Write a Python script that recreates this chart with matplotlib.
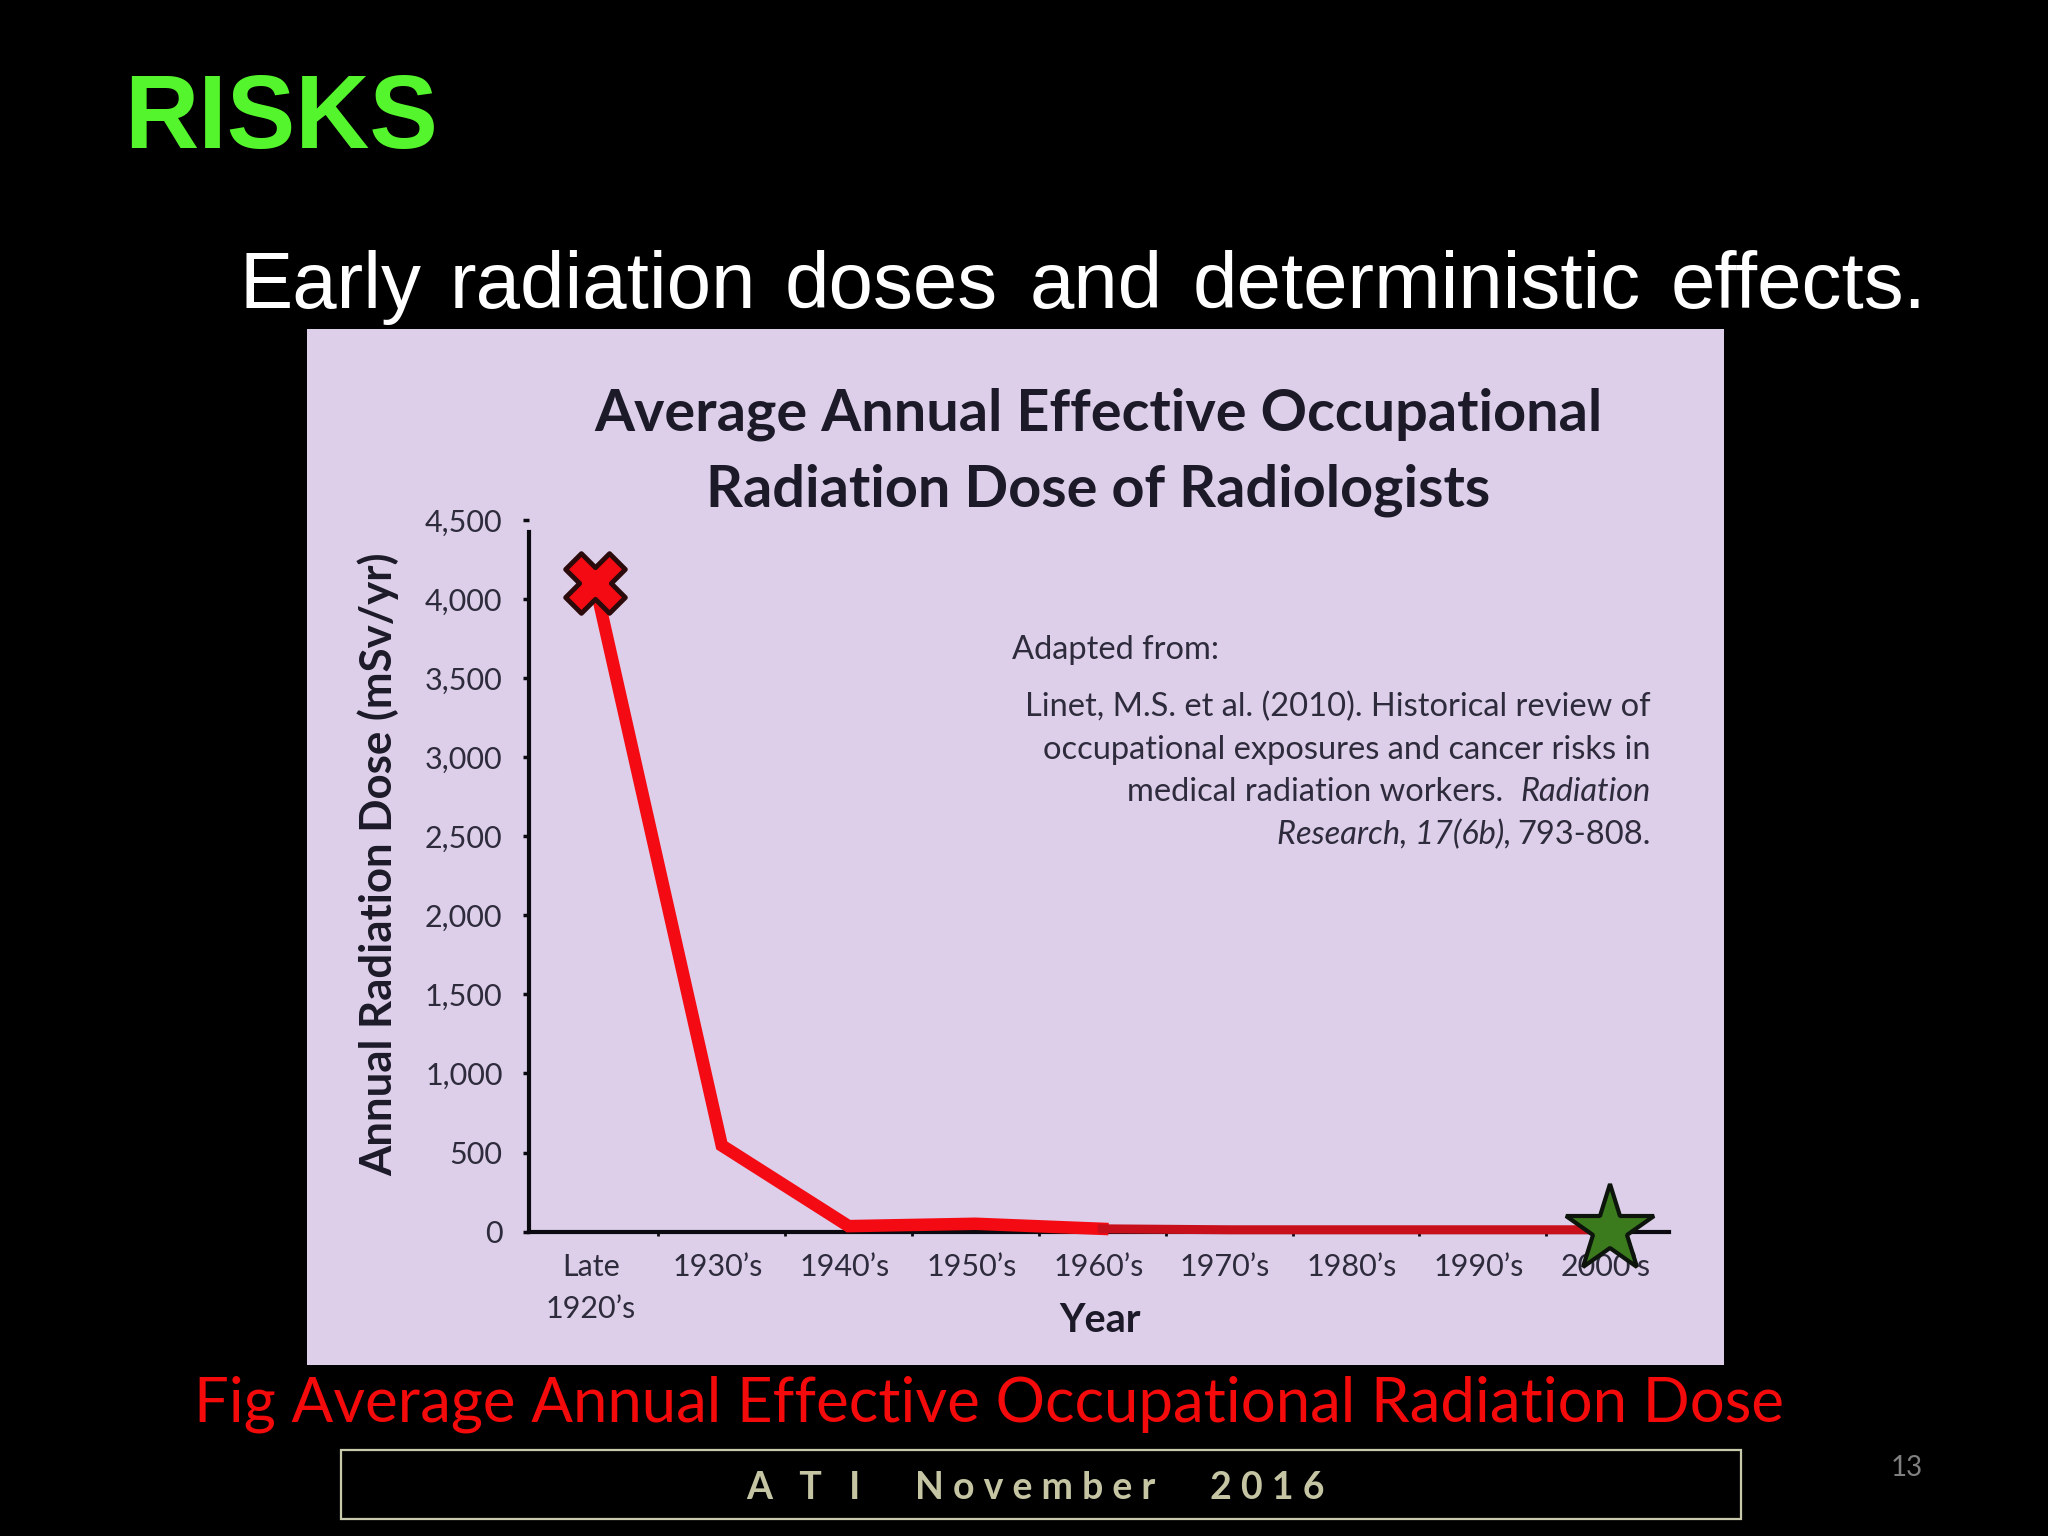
import matplotlib
matplotlib.use("Agg")
import matplotlib.pyplot as plt
from matplotlib.patches import Rectangle
from matplotlib.path import Path
from matplotlib.transforms import Affine2D, ScaledTranslation

# ------------ data ------------
decades = ["Late\n1920’s", "1930’s", "1940’s", "1950’s", "1960’s",
           "1970’s", "1980’s", "1990’s", "2000’s"]
dose = [4100, 545, 35, 50, 18, 12, 12, 12, 12]
y_ticks = [0, 500, 1000, 1500, 2000, 2500, 3000, 3500, 4000, 4500]
y_tick_labels = ["0", "500", "1,000", "1,500", "2,000", "2,500",
                 "3,000", "3,500", "4,000", "4,500"]
subtitle_words = ["Early", "radiation", "doses", "and", "deterministic", "effects."]
subtitle_starts = [183, 344, 601, 788, 913, 1279]

W, H = 2048, 1536
S = 2048 / 1568  # positions below were measured on a 1568 wide view
TEXT_DARK = "#2e2c3c"
PANEL = "#ddcfe9"
RED = "#f40a12"

plt.rcParams["font.family"] = ["Lato", "DejaVu Sans"]

fig = plt.figure(figsize=(W / 100, H / 100), dpi=100, facecolor="black")


def fx(x):
    return x * S / W


def fy(y):
    return 1 - y * S / H


def label(x, y, s, size, **kw):
    kw.setdefault("va", "center")
    kw.setdefault("ha", "center")
    return fig.text(fx(x), fy(y), s, fontsize=size, **kw)


# slide background pieces
fig.patches.append(Rectangle((fx(235), fy(1045)), fx(1320) - fx(235), fy(252) - fy(1045),
                             transform=fig.transFigure, facecolor=PANEL, edgecolor="none", zorder=-2))
fig.patches.append(Rectangle((fx(261), fy(1163)), fx(1333) - fx(261), fy(1110) - fy(1163),
                             transform=fig.transFigure, facecolor="none",
                             edgecolor="#c9c9ac", linewidth=1.6, zorder=-2))

label(95, 93, "RISKS", 74, ha="left", color="#55f52d", fontweight="bold", family="Liberation Sans")
for word, start in zip(subtitle_words, subtitle_starts):
    label(start, 220, word, 57.5, ha="left", color="white", family="Liberation Sans")

# fat cross marker, the built in X has thinner arms
w = 0.36
cross = Path([(-w, -1), (w, -1), (w, -w), (1, -w), (1, w), (w, w), (w, 1), (-w, 1),
              (-w, w), (-1, w), (-1, -w), (-w, -w), (-w, -1)], closed=True)
cross = cross.transformed(Affine2D().rotate_deg(45))

# chart
ax = fig.add_axes([fx(405), fy(943), fx(1278) - fx(405), fy(398) - fy(943)])
ax.patch.set_alpha(0)
xs = list(range(len(decades)))
ax.plot(xs[:5], dose[:5], color=RED, lw=9, solid_joinstyle="miter", clip_on=False, zorder=3)
ax.plot(xs[4:], dose[4:], color="#c8101c", lw=6.5, clip_on=False, zorder=3)
ax.plot(xs[0], dose[0], marker=cross, ms=43, mfc=RED, mec="#2a0a0a", mew=3.5,
        clip_on=False, zorder=5, ls="none")
ax.plot(xs[-1], dose[-1], marker="*", ms=66, mfc="#3c7a1e", mec="#0c140c", mew=3,
        clip_on=False, zorder=5, ls="none")

ax.set_xlim(-0.52, 8.47)
ax.set_ylim(0, 4500)
for side in ("top", "right"):
    ax.spines[side].set_visible(False)
ax.spines["left"].set_linewidth(3)
ax.spines["left"].set_bounds(0, 4420)
ax.spines["bottom"].set_linewidth(3)
ax.spines["left"].set_color("#0a0a10")
ax.spines["bottom"].set_color("#0a0a10")

ax.set_yticks(y_ticks)
ax.set_yticklabels(y_tick_labels, fontsize=22, color=TEXT_DARK)
ax.tick_params(axis="y", length=4, width=2.5, pad=15, color="#0a0a10")
ax.set_xticks(xs)
ax.set_xticklabels(decades, fontsize=22, color=TEXT_DARK, linespacing=1.65)
ax.set_xticks([k - 0.5 for k in range(1, 9)], minor=True)
ax.tick_params(axis="x", which="major", length=0, pad=15)
ax.tick_params(axis="x", which="minor", length=3, width=2, color="#0a0a10")
# the labels sit a little left of the points in the original
nudge = ScaledTranslation(-4 / 100, 0, fig.dpi_scale_trans)
for tick_label in ax.get_xticklabels():
    tick_label.set_transform(tick_label.get_transform() + nudge)

label(290, 662, "Annual Radiation Dose (mSv/yr)", 31.5, rotation=90, color="#1c1a28", fontweight="bold")
label(842, 1011, "Year", 28.5, color="#1c1a28", fontweight="bold")
label(841, 317, "Average Annual Effective Occupational", 41.5, color="#1c1a28", fontweight="bold")
label(841, 375, "Radiation Dose of Radiologists", 41.5, color="#1c1a28", fontweight="bold")

# citation
label(775, 498, "Adapted from:", 23.5, ha="left", color=TEXT_DARK)
label(1264, 541, "Linet, M.S. et al. (2010). Historical review of", 23.5, ha="right", color=TEXT_DARK)
label(1264, 574, "occupational exposures and cancer risks in", 23.5, ha="right", color=TEXT_DARK)
label(1151, 606, "medical radiation workers.", 23.5, ha="right", color=TEXT_DARK)
label(1264, 606, "Radiation", 23.5, ha="right", color=TEXT_DARK, style="italic")
label(1157, 639, "Research, 17(6b),", 23.5, ha="right", color=TEXT_DARK, style="italic")
label(1264, 639, "793-808.", 23.5, ha="right", color=TEXT_DARK)

# footer
label(757, 1075, "Fig Average Annual Effective Occupational Radiation Dose", 44.5, color="#f40a0a")
label(793, 1139, "A   T   I      N o v e m b e r      2 0 1 6", 27, color="#c5c5a3", fontweight="bold")
label(1460, 1124, "13", 20, color="#808080")

fig.savefig("out.png", dpi=100, facecolor="black")
